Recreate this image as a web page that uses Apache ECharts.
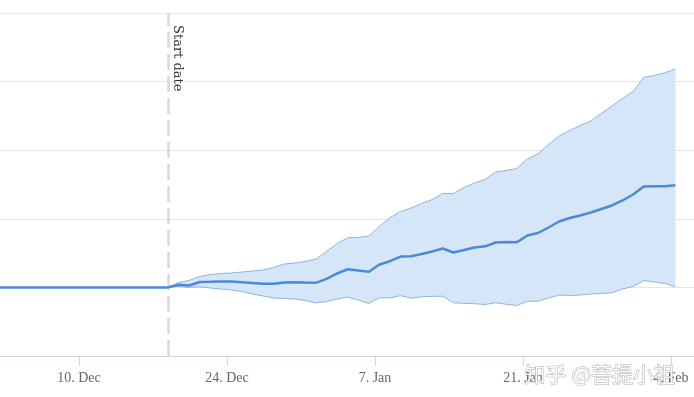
<!DOCTYPE html>
<html><head><meta charset="utf-8">
<script src="https://cdn.jsdelivr.net/npm/echarts@6/dist/echarts.min.js"></script>
<style>html,body{margin:0;padding:0;background:#fff}#c{width:694px;height:397px}</style>
</head><body><div id="c"></div>
<script>
// days counted from 10 Dec
const tickDays = [0, 14, 28, 42, 56];
const tickLabels = ['10. Dec', '24. Dec', '7. Jan', '21. Jan', '4. Feb'];
const startDay = 8.42;        // "Start date"
const historyDays = 16;       // flat days shown before the start date
const baseline = 100;
const median = [100,103.8,102.8,107.9,108.2,108.6,108.6,107.4,106.4,105.2,105.2,107.1,107.6,107.1,106.7,112.5,120.3,126.5,124.6,122.7,133.4,138.2,145,145.5,148.7,152.3,156.7,150.9,154.5,158.2,159.9,165.5,166.2,165.9,175.7,179.3,187.3,196.1,201.2,204.8,209.2,214.3,219.4,226.7,235.4,247.1,247.5,247.5,249];
const upper = [100,107.1,110.1,115.9,118.8,120.3,121,122.4,123.9,125.4,129,134.1,135.6,137.8,141.4,152.3,164,172.3,173,174.9,188.8,201.5,210.6,215.7,222.3,228.1,236.9,236.9,245.6,252.2,257.3,268.2,270.4,273.3,287.2,294.8,308.3,320.7,328.7,336,342.6,353.5,364.4,375.4,385.6,406,408.9,412.8,418.4];
const lower = [100,101.3,100,100.9,99.1,97.7,96.2,94,90.4,87.5,84.5,83.8,83.1,80.9,77.3,79.4,83.1,85.7,81.6,76.5,84.8,84.8,87.9,84.3,86.3,87,87.2,77.6,76.8,76.2,75.1,77.6,75.4,73.6,79.9,79.9,84.5,88.9,88.2,88.9,90.4,91.1,92.1,97.7,101.3,110.1,107.9,105.7,100.9];

const serif = "'Liberation Serif','DejaVu Serif',serif";
const medData = [], lowData = [], upData = [];
for (let i = -historyDays; i < 0; i++) {
  const x = startDay + i;
  medData.push([x, baseline]); lowData.push([x, baseline]); upData.push([x, baseline]);
}
for (let i = 0; i < median.length; i++) {
  const x = startDay + i;
  medData.push([x, median[i]]);
  lowData.push([x, lower[i]]);
  upData.push([x, upper[i]]);
}

const edge = {color: '#8fb3de', width: 1};
const chart = echarts.init(document.getElementById('c'), null, {renderer: 'canvas'});
chart.setOption({
  animation: false,
  grid: {left: 0, right: 0, top: 13, bottom: 41, containLabel: false},
  xAxis: {
    type: 'value', min: -7.47, max: 58.18,
    splitLine: {show: false},
    axisLine: {show: true, lineStyle: {color: '#ccd6eb', width: 1}},
    axisTick: {show: true, length: 10, lineStyle: {color: '#ccd6eb'}, customValues: tickDays},
    axisLabel: {
      customValues: tickDays, margin: 15, color: '#666', fontSize: 14, fontFamily: serif,
      hideOverlap: false, showMinLabel: true, showMaxLabel: true,
      formatter: v => tickLabels[tickDays.indexOf(Math.round(v))] || ''
    }
  },
  yAxis: {
    type: 'value', min: 0, max: 500, interval: 100,
    axisLabel: {show: false}, axisLine: {show: false}, axisTick: {show: false},
    splitLine: {show: true, lineStyle: {color: '#e6e6e6', width: 1}}
  },
  series: [
    {
      type: 'custom', name: 'range', data: [[startDay, baseline]], silent: true, z: 1, clip: true,
      renderItem: (params, api) => {
        const pts = upData.map(p => api.coord(p));
        for (let i = lowData.length - 1; i >= 0; i--) pts.push(api.coord(lowData[i]));
        return {type: 'polygon', shape: {points: pts}, style: {fill: '#d5e6f8'}};
      }
    },
    {type: 'line', name: 'lower', data: lowData, symbol: 'none', lineStyle: edge, z: 2},
    {type: 'line', name: 'upper', data: upData, symbol: 'none', lineStyle: edge, z: 2},
    {
      type: 'line', name: 'median', data: medData, symbol: 'none',
      lineStyle: {color: '#4a8bd4', width: 2.5}, z: 5,
      markLine: {
        silent: true, symbol: 'none', animation: false,
        label: {show: false},
        lineStyle: {color: '#d9d9d9', width: 2.5, type: [16, 6]},
        data: [{xAxis: startDay}]
      }
    }
  ]
});

const sx = chart.convertToPixel({xAxisIndex: 0}, startDay);
chart.setOption({
  graphic: [
    {
      type: 'text', x: sx + 16, y: 25, rotation: -Math.PI / 2, z: 10,
      style: {text: 'Start date', fontSize: 13, fontFamily: "'DejaVu Serif',serif", fill: '#333', align: 'left', verticalAlign: 'top'}
    },
    {
      type: 'text', left: 524, top: 363, z: 10,
      style: {text: '知乎 @菩提小祖', fontSize: 21, fontFamily: "'Noto Sans CJK SC'", fill: 'rgba(255,255,255,0.9)', stroke: 'rgba(110,110,110,0.55)', lineWidth: 1}
    }
  ]
});
</script>
</body></html>
